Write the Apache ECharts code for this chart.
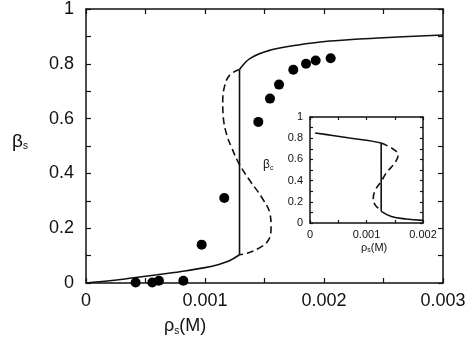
<!DOCTYPE html>
<html lang="en">
<head>
    <meta charset="UTF-8">
    <title>beta_s vs rho_s</title>
    <script src="https://cdn.jsdelivr.net/npm/echarts@6/dist/echarts.min.js"></script>
    <style type="text/css">
        html, body { margin: 0; height: 100%; background: #fff; }
        #main { width: 474px; height: 353px; }
    </style>
</head>
<body>
    <div id="main"></div>
    <script type="text/javascript">
        // main panel: lower stable branch, upper stable branch, unstable (dashed) branch
        var mainLower = [[0, 0], [0.0002, 0.008], [0.0004, 0.019], [0.0006, 0.03], [0.0008, 0.042],
            [0.001, 0.056], [0.0011, 0.066], [0.0012, 0.08], [0.00129, 0.103]];
        var mainUpper = [[0.00129, 0.779], [0.00138, 0.82], [0.00155, 0.85], [0.00177, 0.868],
            [0.00205, 0.883], [0.0025, 0.895], [0.003, 0.905]];
        var mainJump = [[0.00129, 0.103], [0.00129, 0.779]];
        var mainDashed = [[0.00129, 0.779], [0.00121, 0.76], [0.001168, 0.724], [0.001149, 0.663],
            [0.001154, 0.603], [0.001182, 0.542], [0.001224, 0.494], [0.001288, 0.434],
            [0.001378, 0.373], [0.001476, 0.313], [0.001546, 0.253], [0.001555, 0.204],
            [0.001532, 0.156], [0.001448, 0.126], [0.00135, 0.108], [0.00129, 0.103]];
        // experimental points
        var expPoints = [[0.000417, 0.002], [0.000557, 0.002], [0.000613, 0.008], [0.000818, 0.008],
            [0.000972, 0.14], [0.001162, 0.31], [0.001448, 0.588], [0.001546, 0.673],
            [0.001622, 0.724], [0.001742, 0.778], [0.001849, 0.8], [0.00193, 0.812], [0.002056, 0.82]];

        // inset panel
        var insetUpper = [[0.00009, 0.849], [0.0004, 0.826], [0.0007, 0.802], [0.001, 0.78], [0.00126, 0.755]];
        var insetJump = [[0.00126, 0.755], [0.00126, 0.11]];
        var insetDashed = [[0.00126, 0.755], [0.00147, 0.698], [0.00156, 0.644], [0.0015, 0.566],
            [0.00135, 0.472], [0.00126, 0.392], [0.00116, 0.314], [0.00112, 0.236],
            [0.00115, 0.173], [0.00124, 0.125], [0.00126, 0.11]];
        var insetLower = [[0.00126, 0.11], [0.00144, 0.062], [0.0017, 0.038], [0.002, 0.025]];

        // tick labels
        var mainXTicks = ['0', '0.001', '0.002', '0.003'];
        var insetXTicks = ['0', '0.001', '0.002'];
        var yTicks = ['0', '0.2', '0.4', '0.6', '0.8', '1'];

        var FONT = '"Liberation Sans", Arial, sans-serif';
        var INK = '#111';

        function labelFmt(ticks, step) {
            return function (v) {
                var k = Math.round(v / step);
                return k % 2 === 0 ? ticks[k / 2] : '';
            };
        }

        function makeAxis(grid, pos, max, step, ticks, size, tickLen, margin) {
            var showLabel = (pos === 'bottom' || pos === 'left');
            return {
                type: 'value', gridIndex: grid, position: pos,
                min: 0, max: max, interval: step,
                axisLine: { show: true, onZero: false, lineStyle: { color: INK, width: 1.5 } },
                axisTick: { show: true, inside: true, length: tickLen, lineStyle: { color: INK, width: 1.2 } },
                splitLine: { show: false },
                axisLabel: {
                    show: showLabel, margin: margin, color: INK, fontSize: size, fontFamily: FONT,
                    formatter: labelFmt(ticks, step)
                }
            };
        }

        var chartDom = document.getElementById('main');
        var myChart = echarts.init(chartDom);

        var solid = { color: INK, width: 1.6 };
        var dashed = { color: INK, width: 1.6, type: [7, 4] };

        var option = {
            backgroundColor: '#fff',
            animation: false,
            grid: [
                { left: 86, top: 7, width: 357, height: 276 },
                { left: 310, top: 117, width: 113, height: 106 }
            ],
            // 0,1: main bottom/top; 2,3: inset bottom/top
            xAxis: [
                makeAxis(0, 'bottom', 0.003, 0.0005, mainXTicks, 18, 5, 9),
                makeAxis(0, 'top', 0.003, 0.0005, mainXTicks, 18, 5, 9),
                makeAxis(1, 'bottom', 0.002, 0.0005, insetXTicks, 11, 3, 6),
                makeAxis(1, 'top', 0.002, 0.0005, insetXTicks, 11, 3, 6)
            ],
            yAxis: [
                makeAxis(0, 'left', 1, 0.1, yTicks, 18, 5, 12),
                makeAxis(0, 'right', 1, 0.1, yTicks, 18, 5, 12),
                makeAxis(1, 'left', 1, 0.1, yTicks, 11, 3, 7),
                makeAxis(1, 'right', 1, 0.1, yTicks, 11, 3, 7)
            ],
            graphic: [
                {
                    type: 'text', left: 12, top: 132,
                    style: { text: '{b|β}{s|s}', rich: {
                        b: { fontSize: 19, fontFamily: FONT, fill: INK },
                        s: { fontSize: 10, fontFamily: FONT, fill: INK, padding: [10, 0, 0, 0] }
                    } }
                },
                {
                    type: 'text', left: 164, top: 317,
                    style: { text: '{b|ρ}{s|s}{b|(M)}', rich: {
                        b: { fontSize: 18, fontFamily: FONT, fill: INK },
                        s: { fontSize: 10, fontFamily: FONT, fill: INK, padding: [10, 0, 0, 0] }
                    } }
                },
                {
                    type: 'text', left: 263, top: 159,
                    style: { text: '{b|β}{s|c}', rich: {
                        b: { fontSize: 12, fontFamily: FONT, fill: INK },
                        s: { fontSize: 7, fontFamily: FONT, fill: INK, padding: [6, 0, 0, 0] }
                    } }
                },
                {
                    type: 'text', left: 361, top: 242,
                    style: { text: '{b|ρ}{s|s}{b|(M)}', rich: {
                        b: { fontSize: 11, fontFamily: FONT, fill: INK },
                        s: { fontSize: 7, fontFamily: FONT, fill: INK, padding: [5, 0, 0, 0] }
                    } }
                }
            ],
            series: [
                { type: 'line', xAxisIndex: 0, yAxisIndex: 0, data: mainLower, smooth: 0.4, symbol: 'none', lineStyle: solid },
                { type: 'line', xAxisIndex: 0, yAxisIndex: 0, data: mainUpper, smooth: 0.4, symbol: 'none', lineStyle: solid },
                { type: 'line', xAxisIndex: 0, yAxisIndex: 0, data: mainJump, symbol: 'none', lineStyle: solid },
                { type: 'line', xAxisIndex: 0, yAxisIndex: 0, data: mainDashed, smooth: 0.4, symbol: 'none', lineStyle: dashed },
                { type: 'scatter', xAxisIndex: 0, yAxisIndex: 0, data: expPoints, symbol: 'circle', symbolSize: 10,
                  itemStyle: { color: '#000', opacity: 1 }, z: 5 },
                { type: 'line', xAxisIndex: 2, yAxisIndex: 2, data: insetUpper, smooth: 0.4, symbol: 'none', lineStyle: solid },
                { type: 'line', xAxisIndex: 2, yAxisIndex: 2, data: insetJump, symbol: 'none', lineStyle: solid },
                { type: 'line', xAxisIndex: 2, yAxisIndex: 2, data: insetDashed, smooth: 0.4, symbol: 'none', lineStyle: dashed },
                { type: 'line', xAxisIndex: 2, yAxisIndex: 2, data: insetLower, smooth: 0.4, symbol: 'none', lineStyle: solid }
            ]
        };
        myChart.setOption(option);
    </script>
</body>
</html>
